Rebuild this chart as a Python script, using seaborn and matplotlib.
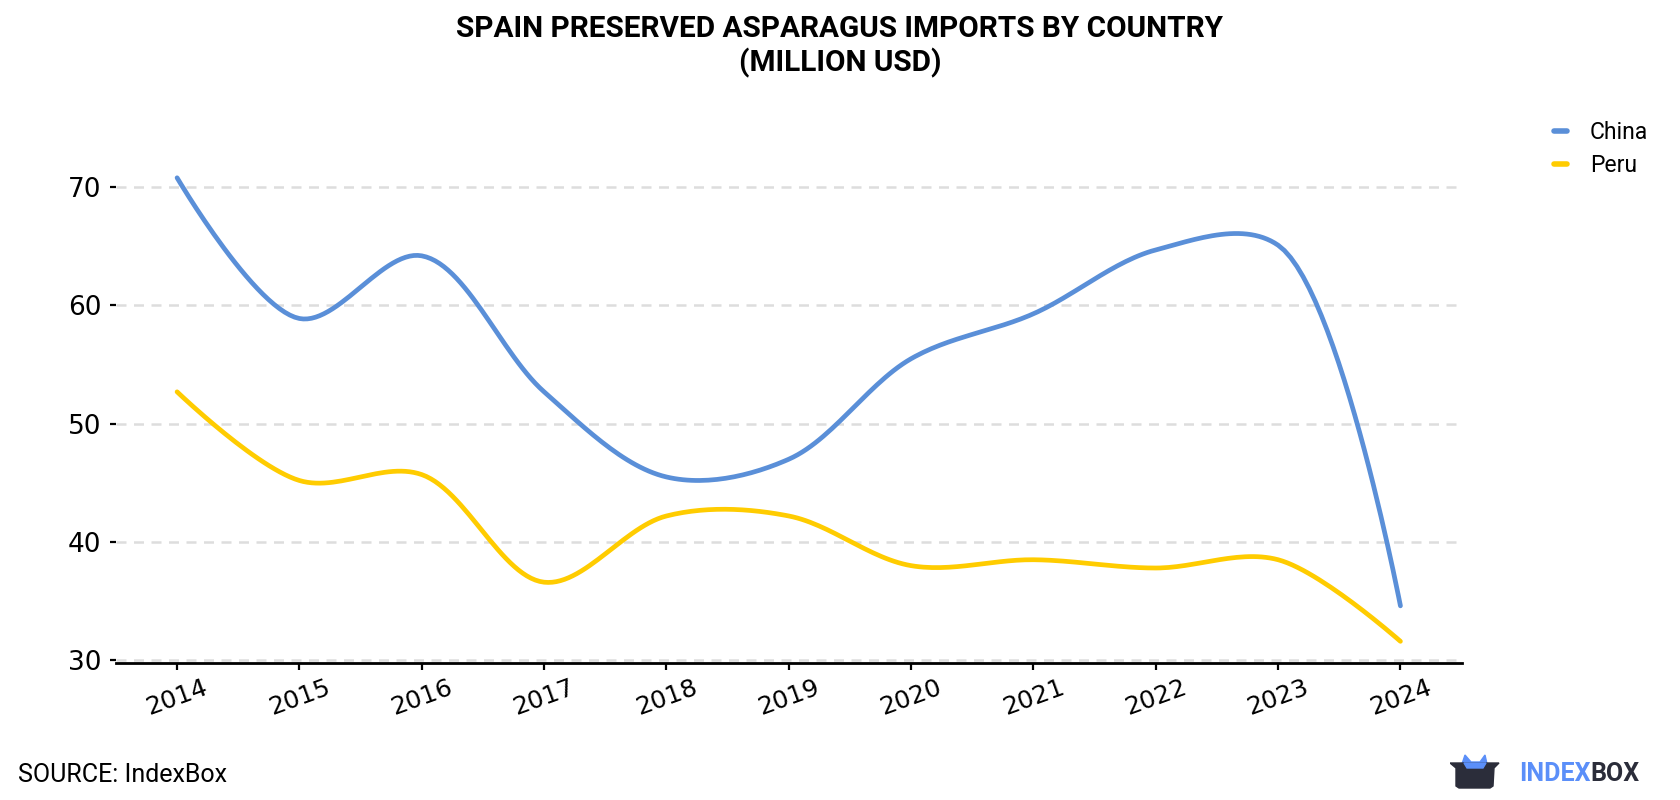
import numpy as np
import pandas as pd
import seaborn as sns
import matplotlib.pyplot as plt
from matplotlib.patches import Polygon

# data (million USD)
years = [2014, 2015, 2016, 2017, 2018, 2019, 2020, 2021, 2022, 2023, 2024]
china = [70.8, 58.9, 64.2, 52.7, 45.5, 47.0, 55.5, 59.3, 64.7, 65.1, 34.6]
peru = [52.7, 45.2, 45.7, 36.6, 42.2, 42.2, 38.0, 38.5, 37.8, 38.5, 31.6]
countries = ["China", "Peru"]
colors = ["#5a8fd8", "#ffcc00"]
yticks = [30, 40, 50, 60, 70]

# pixel scale of the plot area, used only to shape the curve
PX_X, PX_Y = 122.3, 11.83


def smooth(xs, ys, alpha=0.5, n=30):
    # centripetal catmull-rom (like d3.curveCatmullRom), drawing only
    pts = [(x * PX_X, -y * PX_Y) for x, y in zip(xs, ys)]
    pts = pts + [pts[-1]]
    out = [pts[0]]

    def dist(a, b):
        d2 = (a[0] - b[0]) ** 2 + (a[1] - b[1]) ** 2
        return d2 ** (alpha / 2), d2 ** alpha

    for i in range(len(pts) - 2):
        p0 = pts[i - 1] if i > 0 else None
        p1, p2, p3 = pts[i], pts[i + 1], pts[i + 2]
        l12_a, l12_2a = dist(p1, p2)
        c1 = list(p1)
        if p0 is not None:
            l01_a, l01_2a = dist(p0, p1)
            if l01_a > 1e-12:
                a = 2 * l01_2a + 3 * l01_a * l12_a + l12_2a
                nn = 3 * l01_a * (l01_a + l12_a)
                c1 = [(p1[k] * a - p0[k] * l12_2a + p2[k] * l01_2a) / nn for k in range(2)]
        c2 = list(p2)
        l23_a, l23_2a = dist(p2, p3)
        if l23_a > 1e-12:
            b = 2 * l23_2a + 3 * l23_a * l12_a + l12_2a
            m = 3 * l23_a * (l23_a + l12_a)
            c2 = [(p2[k] * b + p1[k] * l23_2a - p3[k] * l12_2a) / m for k in range(2)]
        t = np.linspace(0, 1, n)[1:, None]
        seg = ((1 - t) ** 3 * np.array(p1) + 3 * (1 - t) ** 2 * t * np.array(c1)
               + 3 * (1 - t) * t ** 2 * np.array(c2) + t ** 3 * np.array(p2))
        out.extend(map(tuple, seg))
    out = np.array(out)
    return out[:, 0] / PX_X, -out[:, 1] / PX_Y


frames = []
for name, vals in zip(countries, [china, peru]):
    sx, sy = smooth(years, vals)
    frames.append(pd.DataFrame({"year": sx, "value": sy, "country": name}))
df = pd.concat(frames, ignore_index=True)

sns.set_theme(style="white")
plt.rcParams["font.family"] = ["DejaVu Sans"]
plt.rcParams["text.color"] = "black"
plt.rcParams["xtick.color"] = "black"
plt.rcParams["ytick.color"] = "black"

fig = plt.figure(figsize=(16.8, 8), dpi=100)
ax = fig.add_axes([0.069, 0.171, 0.801, 0.6415])

sns.lineplot(data=df, x="year", y="value", hue="country", palette=colors,
             linewidth=3.4, sort=False, estimator=None, ax=ax, legend=False)

ax.set_xlim(2013.5, 2024.5)
ax.set_ylim(29.75, 73.15)
ax.set_xticks(years)
ax.set_xticklabels([str(y) for y in years], rotation=20, fontsize=18)
ax.set_yticks(yticks)
ax.set_yticklabels([str(v) for v in yticks], fontsize=19)
ax.set_xlabel("")
ax.set_ylabel("")
ax.grid(axis="y", color="#dddddd", linestyle=(0, (4, 3)), linewidth=1.8)
ax.grid(axis="x", visible=False)
for s in ["top", "right", "left"]:
    ax.spines[s].set_visible(False)
ax.spines["bottom"].set_color("black")
ax.spines["bottom"].set_linewidth(2)
ax.tick_params(axis="y", length=4.5, width=1.6, pad=6, left=True)
ax.tick_params(axis="x", length=5, width=1.6, pad=4, bottom=True)

fig.text(0.5, 0.942, "SPAIN PRESERVED ASPARAGUS IMPORTS BY COUNTRY\n(MILLION USD)",
         ha="center", va="center", fontsize=21.4, fontweight="bold",
         family="Roboto", linespacing=1.2)

handles = [plt.Line2D([], [], color=c, linewidth=4) for c in colors]
fig.legend(handles, countries, loc="upper left", bbox_to_anchor=(0.913, 0.875),
           frameon=False, prop={"family": "Roboto", "size": 16.5},
           handlelength=0.55, handletextpad=1.0, labelspacing=0.45)

fig.text(0.011, 0.031, "SOURCE: IndexBox", fontsize=18, family="Roboto",
         va="center", ha="left")

# logo
t1 = fig.text(1519 / 1680, 0.032, "INDEX", fontsize=18, family="Roboto",
              fontweight="bold", color="#5b8ff9", va="center", ha="left")
fig.canvas.draw()
bb = t1.get_window_extent()
fig.text(bb.x1 / 1680, 0.032, "BOX", fontsize=18, family="Roboto",
         fontweight="bold", color="#2b2d3a", va="center", ha="left")
lax = fig.add_axes([1450 / 1680, 0, 50 / 1680, 50 / 800])
lax.set_xlim(0, 50)
lax.set_ylim(0, 50)
lax.axis("off")
lax.add_patch(Polygon([(12, 36), (15, 45), (21, 38), (30, 38), (35, 45), (37, 36), (34, 30), (14, 30)],
                      closed=True, color="#5b8ff9"))
lax.add_patch(Polygon([(0, 37), (49, 37), (44, 32), (43, 14), (40, 12), (9, 12), (6, 14), (6, 32)],
                      closed=True, color="#2b2d3a"))
lax.add_patch(Polygon([(14, 37), (36, 37), (33, 32), (17, 32)], closed=True, color="#5b8ff9"))

fig.savefig("out.png", dpi=100)
